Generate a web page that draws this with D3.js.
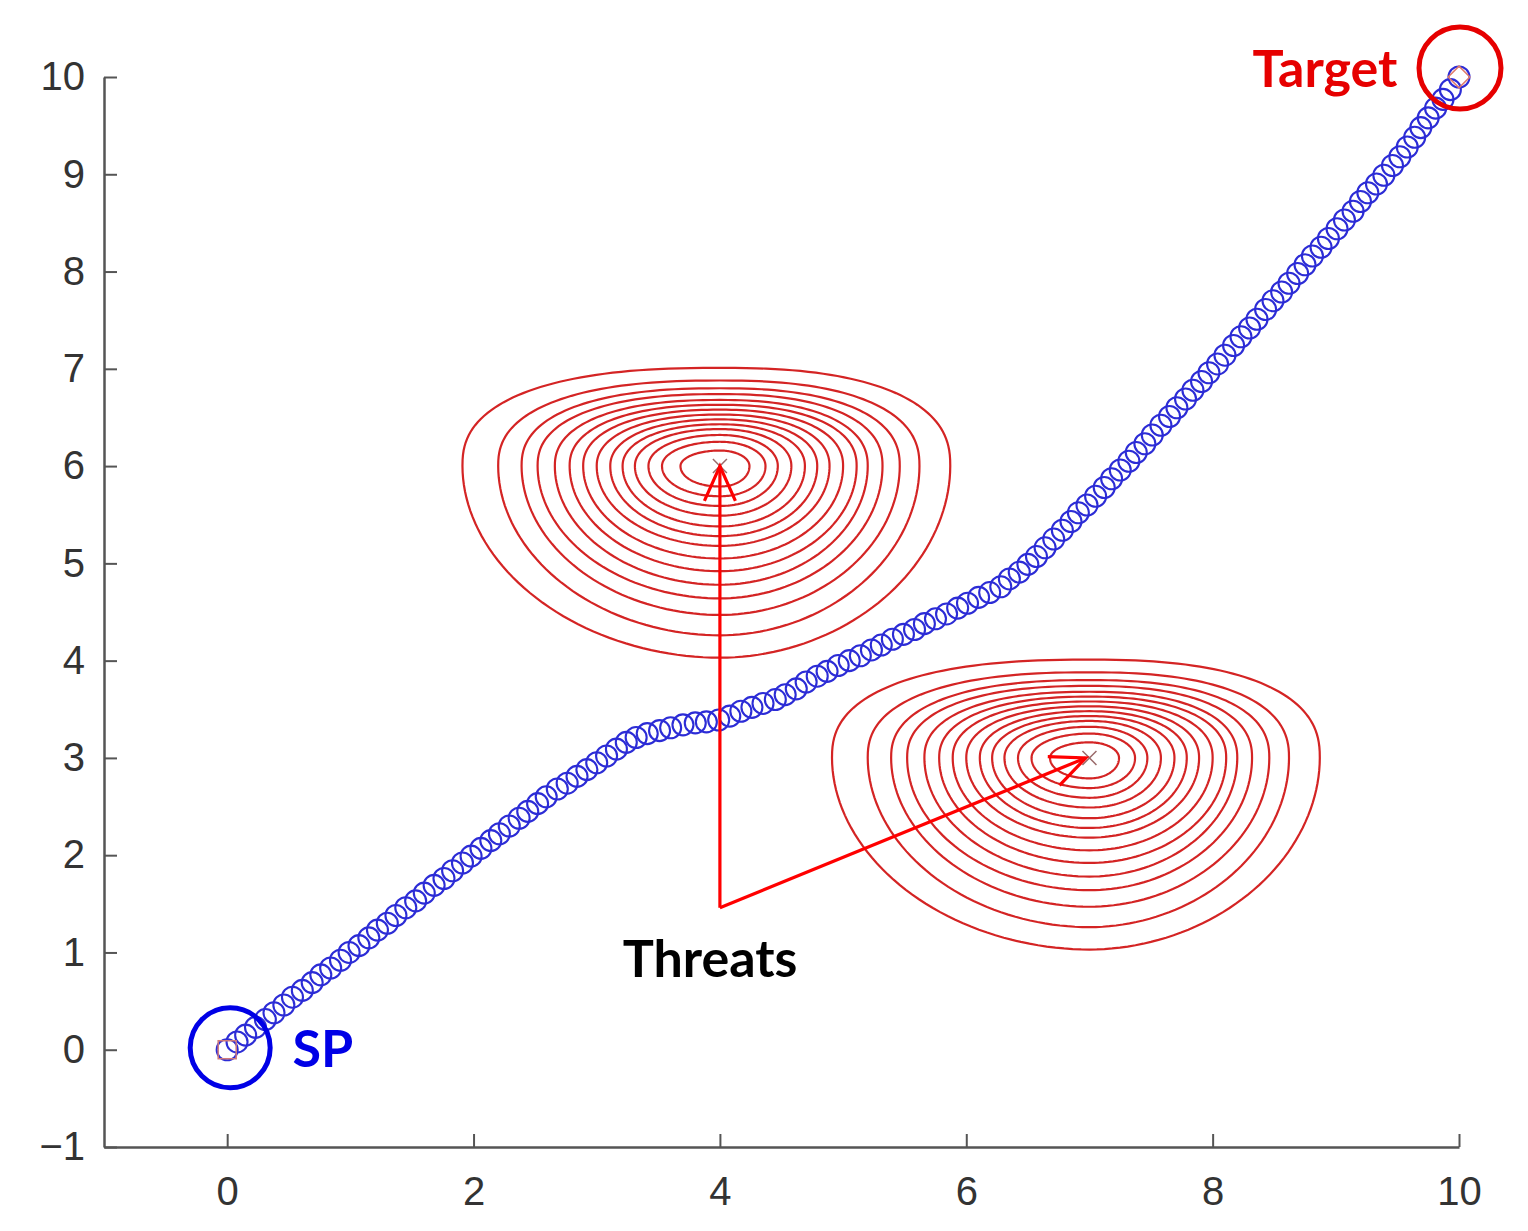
<!DOCTYPE html>
<html>
<head>
<meta charset="utf-8">
<script src="https://cdn.jsdelivr.net/npm/d3@7"></script>
<style>
  html, body { margin: 0; padding: 0; background: #fff; }
  .axis text { font-family: 'Liberation Sans', Arial, sans-serif; font-size: 40px; fill: #333; }
  .axis path, .axis line { stroke: #555; }
  .note { font-family: Lato, 'Open Sans', sans-serif; font-weight: 700; font-size: 52px; }
</style>
</head>
<body>
<div class="canvas"></div>
<script>
const dims = { width: 1528, height: 1231 };
const box = { left: 104, right: 1459, top: 77, bottom: 1147 };

// axis ticks
const xTicks = [0, 2, 4, 6, 8, 10];
const yTicks = [-1, 0, 1, 2, 3, 4, 5, 6, 7, 8, 9, 10];

// planned path (waypoints)
const pathX = [
    0, 0.08, 0.15, 0.23, 0.31, 0.38, 0.46, 0.53, 0.61, 0.69, 0.76, 0.84, 0.92, 0.99, 1.07, 1.15, 1.22, 1.30, 1.37, 1.45,
    1.53, 1.60, 1.68, 1.76, 1.83, 1.91, 1.98, 2.06, 2.14, 2.21, 2.29, 2.37, 2.44, 2.52, 2.59,
    2.68, 2.76, 2.84, 2.92, 3.00, 3.08, 3.16, 3.24, 3.32, 3.41, 3.51, 3.60, 3.70, 3.80, 3.89,
    3.99, 4.08, 4.17, 4.26, 4.35, 4.45, 4.53, 4.62, 4.70, 4.79,
    4.87, 4.96, 5.05, 5.14, 5.23, 5.31, 5.40, 5.49, 5.58, 5.66, 5.75, 5.84, 5.93, 6.01, 6.10, 6.19,
    6.28, 6.35, 6.43, 6.50, 6.57, 6.64, 6.71, 6.78, 6.85, 6.91, 6.98, 7.05, 7.12, 7.18,
    7.25, 7.32, 7.38, 7.45, 7.51, 7.58, 7.65, 7.71, 7.78, 7.84, 7.91, 7.97, 8.04,
    8.10, 8.17, 8.23, 8.30, 8.36, 8.43, 8.49, 8.56, 8.62, 8.69, 8.75, 8.81,
    8.88, 8.94, 9.01, 9.07, 9.14, 9.20, 9.26, 9.33, 9.39, 9.46,
    9.52, 9.58, 9.64, 9.69, 9.75, 9.81, 9.87, 9.93, 10.0
];
const pathY = [
    0, 0.08, 0.15, 0.23, 0.31, 0.38, 0.46, 0.54, 0.61, 0.69, 0.77, 0.84, 0.92, 1.00, 1.07, 1.15, 1.23, 1.30, 1.38, 1.46,
    1.53, 1.61, 1.69, 1.76, 1.84, 1.92, 1.99, 2.07, 2.15, 2.22, 2.30, 2.38, 2.45, 2.53, 2.60,
    2.68, 2.74, 2.81, 2.88, 2.95, 3.02, 3.09, 3.16, 3.21, 3.25, 3.28, 3.31, 3.34, 3.36, 3.37,
    3.39, 3.43, 3.48, 3.52, 3.56, 3.60, 3.65, 3.71, 3.78, 3.84,
    3.89, 3.95, 4.00, 4.05, 4.11, 4.16, 4.22, 4.27, 4.32, 4.38, 4.43, 4.48, 4.54, 4.59, 4.65, 4.70,
    4.76, 4.84, 4.91, 4.99, 5.07, 5.16, 5.25, 5.34, 5.43, 5.52, 5.60, 5.69, 5.78, 5.87,
    5.96, 6.05, 6.14, 6.23, 6.32, 6.42, 6.51, 6.60, 6.69, 6.78, 6.87, 6.96, 7.05,
    7.14, 7.24, 7.33, 7.42, 7.51, 7.61, 7.70, 7.79, 7.88, 7.98, 8.07, 8.16,
    8.25, 8.34, 8.44, 8.53, 8.62, 8.72, 8.81, 8.90, 8.99, 9.09,
    9.18, 9.28, 9.38, 9.48, 9.58, 9.68, 9.77, 9.87, 10.0
];

// start / target
const startPt = [0, 0];
const targetPt = [10, 10];

// threats and the reach of each contour level (outer -> inner), data units from the centre
const threatX = [4, 7];
const threatY = [6, 3];
const levelLeft   = [2.09, 1.80, 1.61, 1.48, 1.34, 1.22, 1.11, 1.00, 0.89, 0.79, 0.69, 0.58, 0.47, 0.32];
const levelRight  = [1.87, 1.62, 1.46, 1.32, 1.20, 1.11, 1.00, 0.89, 0.79, 0.69, 0.58, 0.47, 0.37, 0.24];
const levelTop    = [1.01, 0.88, 0.80, 0.74, 0.68, 0.63, 0.58, 0.53, 0.48, 0.43, 0.38, 0.32, 0.25, 0.16];
const levelBottom = [1.97, 1.74, 1.53, 1.36, 1.22, 1.08, 0.95, 0.82, 0.72, 0.62, 0.51, 0.41, 0.31, 0.21];

// "Threats" arrows: common tail, one head per threat
const arrowTail = [4, 1.46];
const arrowHeadX = [4, 6.97];
const arrowHeadY = [6, 3.0];

const svg = d3.select('.canvas')
    .append('svg')
    .attr('width', dims.width)
    .attr('height', dims.height)
;

svg.append('rect')
    .attr('width', dims.width)
    .attr('height', dims.height)
    .attr('fill', '#fff');

const x = d3.scaleLinear().domain([-1, 10]).range([box.left, box.right]);
const y = d3.scaleLinear().domain([-1, 10]).range([box.bottom, box.top]);

// axes, ticks pointing inwards, no box
const xAxis = d3.axisBottom(x)
    .tickValues(xTicks)
    .tickSizeInner(-13)
    .tickSizeOuter(0)
    .tickPadding(30);
const yAxis = d3.axisLeft(y)
    .tickValues(yTicks)
    .tickSizeInner(-13)
    .tickSizeOuter(0)
    .tickPadding(19)
    .tickFormat(d => d < 0 ? '\u2212' + Math.abs(d) : d);

const gx = svg.append('g')
    .attr('class', 'axis')
    .attr('transform', `translate(0, ${box.bottom})`)
    .call(xAxis);
const gy = svg.append('g')
    .attr('class', 'axis')
    .attr('transform', `translate(${box.left}, 0)`)
    .call(yAxis);

[gx, gy].forEach(g => {
    g.select('.domain').attr('stroke', '#6a6a6a').attr('stroke-width', 2.5);
    g.selectAll('.tick line').attr('stroke', '#333').attr('stroke-width', 2);
});

// threat contours
const contourLine = d3.line()
    .x(d => x(d[0]))
    .y(d => y(d[1]))
    .curve(d3.curveLinearClosed);

const contourShape = (cx, cy, i) => {
    const f = i / (levelLeft.length - 1);   // 0 outer .. 1 inner
    const topExp = 2.45 - 0.45 * f;
    const botExp = 1.95 + 0.1 * f;
    const pts = [];
    for (let k = 0; k < 180; k++) {
        const t = k / 180 * 2 * Math.PI;
        const c = Math.cos(t), s = Math.sin(t);
        const w = c >= 0 ? levelRight[i] : levelLeft[i];
        const h = s >= 0 ? levelTop[i] : levelBottom[i];
        const e = s >= 0 ? topExp : botExp;
        pts.push([
            cx + Math.sign(c) * Math.pow(Math.abs(c), 2 / e) * w,
            cy + Math.sign(s) * Math.pow(Math.abs(s), 2 / e) * h
        ]);
    }
    return pts;
};

const contours = svg.append('g');
threatX.forEach((tx, j) => {
    contours.selectAll(null)
        .data(levelLeft.map((_, i) => contourShape(tx, threatY[j], i)))
        .enter()
        .append('path')
        .attr('d', contourLine)
        .attr('fill', 'none')
        .attr('stroke', '#d42424')
        .attr('stroke-width', 2.2);

    const px = x(tx), py = y(threatY[j]);
    contours.append('path')
        .attr('d', `M${px - 7},${py - 7}L${px + 7},${py + 7}M${px - 7},${py + 7}L${px + 7},${py - 7}`)
        .attr('stroke', '#9b6b6b')
        .attr('stroke-width', 1.5);
});

// path markers
svg.append('g')
    .selectAll('circle')
    .data(pathX.map((v, i) => [v, pathY[i]]))
    .enter()
    .append('circle')
    .attr('cx', d => x(d[0]))
    .attr('cy', d => y(d[1]))
    .attr('r', 10.5)
    .attr('fill', 'none')
    .attr('stroke', '#2c2cd6')
    .attr('stroke-width', 2.1);

// start square and target diamond
svg.append('rect')
    .attr('x', x(startPt[0]) - 9)
    .attr('y', y(startPt[1]) - 9)
    .attr('width', 18)
    .attr('height', 18)
    .attr('fill', 'none')
    .attr('stroke', '#d07a7a')
    .attr('stroke-width', 1.5);

svg.append('path')
    .attr('d', d3.symbol(d3.symbolDiamond2, 300)())
    .attr('transform', `translate(${x(targetPt[0])}, ${y(targetPt[1])})`)
    .attr('fill', 'none')
    .attr('stroke', '#e07a6a')
    .attr('stroke-width', 1.5);

// arrows
const arrows = svg.append('g')
    .attr('stroke', '#f00')
    .attr('stroke-width', 3.2)
    .attr('fill', 'none');

arrowHeadX.forEach((hx, i) => {
    const x0 = x(arrowTail[0]), y0 = y(arrowTail[1]);
    const x1 = x(hx), y1 = y(arrowHeadY[i]);
    const a = Math.atan2(y1 - y0, x1 - x0);
    const len = 38, spread = 0.42;
    arrows.append('line')
        .attr('x1', x0).attr('y1', y0)
        .attr('x2', x1).attr('y2', y1);
    arrows.append('path')
        .attr('d', `M${x1 - len * Math.cos(a - spread)},${y1 - len * Math.sin(a - spread)}`
            + `L${x1},${y1}`
            + `L${x1 - len * Math.cos(a + spread)},${y1 - len * Math.sin(a + spread)}`);
});

// annotations
svg.append('text')
    .attr('class', 'note')
    .attr('x', x(3.92))
    .attr('y', y(0.75))
    .attr('text-anchor', 'middle')
    .attr('fill', '#000')
    .text('Threats');

svg.append('circle')
    .attr('cx', x(startPt[0]) + 3)
    .attr('cy', y(startPt[1]) - 2)
    .attr('r', 40)
    .attr('fill', 'none')
    .attr('stroke', '#0000e6')
    .attr('stroke-width', 5);

svg.append('text')
    .attr('class', 'note')
    .attr('x', x(0.53))
    .attr('y', y(-0.18))
    .attr('fill', '#0000e6')
    .text('SP');

svg.append('circle')
    .attr('cx', x(targetPt[0]) + 1)
    .attr('cy', y(targetPt[1]) - 9)
    .attr('r', 41)
    .attr('fill', 'none')
    .attr('stroke', '#e60000')
    .attr('stroke-width', 5);

svg.append('text')
    .attr('class', 'note')
    .attr('x', x(9.5))
    .attr('y', y(9.9))
    .attr('text-anchor', 'end')
    .attr('fill', '#e60000')
    .text('Target');
</script>
</body>
</html>
